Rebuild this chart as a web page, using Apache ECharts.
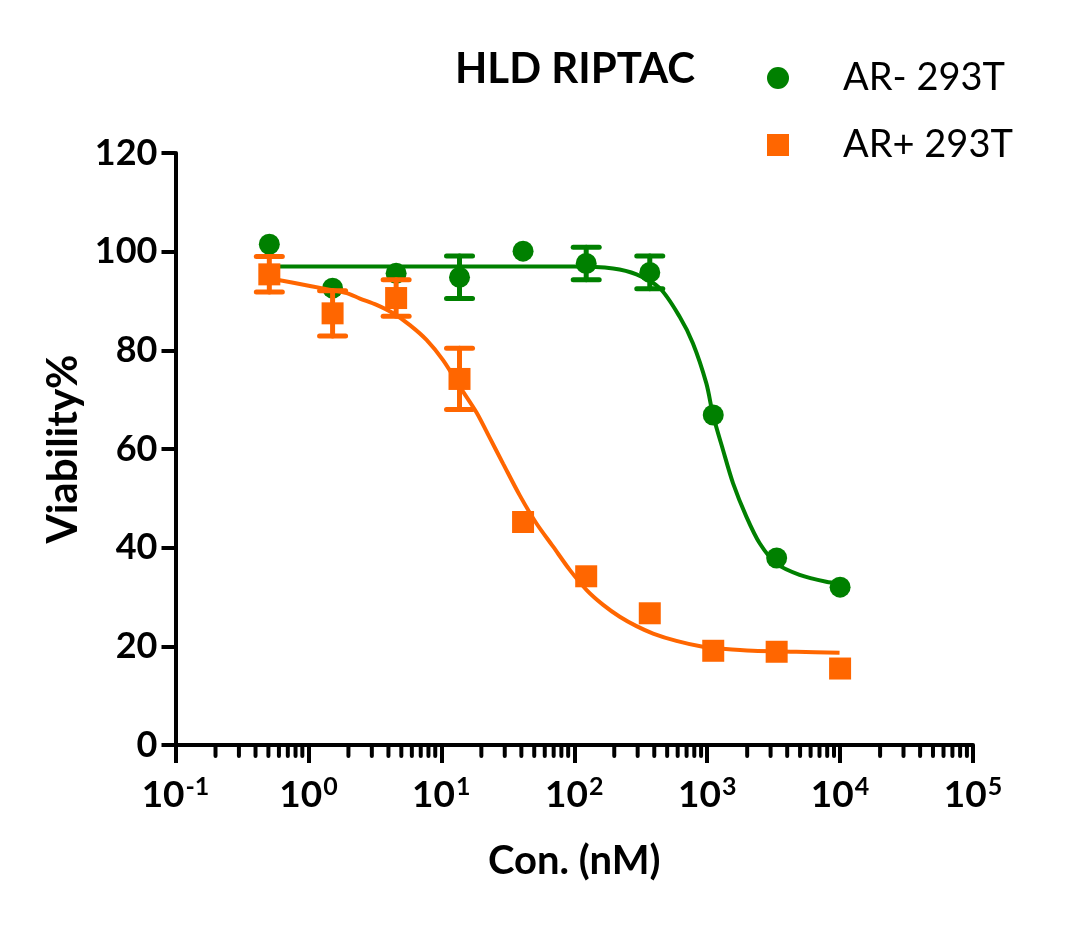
<!DOCTYPE html>
<html>
<head>
<meta charset="utf-8">
<script src="https://cdn.jsdelivr.net/npm/echarts@6/dist/echarts.min.js"></script>
<style>
html,body{margin:0;padding:0;background:#fff;}
#chart{width:1080px;height:933px;}
</style>
</head>
<body>
<div id="chart"></div>
<script>
// ---- data ----
const concentrations = [0.508, 1.52, 4.57, 13.7, 41.2, 123, 370, 1111, 3333, 10000];
const arMinusMean = [101.5, 92.6, 95.6, 94.8, 100.1, 97.6, 95.8, 66.9, 37.9, 32.0];
const arMinusErr  = [0, 0, 0, 4.3, 0, 3.3, 3.3, 0, 0, 0];
const arPlusMean  = [95.4, 87.5, 90.6, 74.2, 45.2, 34.2, 26.7, 19.1, 18.9, 15.5];
const arPlusErr   = [3.6, 4.6, 3.7, 6.2, 0, 0, 0, 0, 0, 0];

const arMinusFitX = [0.5, 5, 30, 100, 196, 294, 440, 621, 782, 986, 1107, 1316, 1564, 1972, 2483, 3315, 4959, 7865, 9908];
const arMinusFitY = [97.0, 97.0, 97.0, 97.0, 96.6, 95.4, 92.6, 86.8, 81.4, 73.3, 66.9, 59.8, 53.1, 46.3, 40.9, 36.8, 34.5, 33.1, 32.8];
const arPlusFitX = [0.5, 0.77, 1.37, 1.94, 2.44, 3.26, 4.34, 5.8, 7.74, 10.3, 13.8, 18.4, 23.2, 29.2, 38.9, 52, 69.4, 92.5, 124, 165, 220, 294, 392, 587, 929, 1309, 2199, 4687, 9908];
const arPlusFitY = [94.6, 93.7, 92.4, 91.6, 90.5, 89.2, 87.5, 85.1, 82.1, 78.0, 72.6, 67.4, 62.2, 57.0, 50.6, 44.9, 40.2, 35.5, 31.4, 28.4, 26.0, 24.1, 22.6, 21.1, 19.9, 19.5, 19.1, 18.9, 18.7];

const seriesNames = ['AR- 293T', 'AR+ 293T'];
const titleText = 'HLD RIPTAC';
const xName = 'Con. (nM)';
const yName = 'Viability%';
const xDecades = [-1, 0, 1, 2, 3, 4, 5];

const GREEN = '#008000';
const ORANGE = '#FF6600';
const FONT = 'Lato';

const minorTicks = [];
for (let k = xDecades[0]; k < xDecades[xDecades.length - 1]; k++) {
  for (let m = 2; m <= 9; m++) minorTicks.push(m * Math.pow(10, k));
}

function zip(a, b) { return a.map((v, i) => [v, b[i]]); }
function errData(mean, err) {
  const out = [];
  mean.forEach((m, i) => { if (err[i] > 0) out.push([concentrations[i], m - err[i], m + err[i]]); });
  return out;
}

function errRender(color) {
  return function (params, api) {
    const x = api.value(0);
    const lo = api.coord([x, api.value(1)]);
    const hi = api.coord([x, api.value(2)]);
    const hw = 13;
    const st = { stroke: color, lineWidth: 5, lineCap: 'round' };
    return {
      type: 'group',
      children: [
        { type: 'line', shape: { x1: lo[0], y1: lo[1], x2: hi[0], y2: hi[1] }, style: st },
        { type: 'line', shape: { x1: lo[0] - hw, y1: lo[1], x2: lo[0] + hw, y2: lo[1] }, style: st },
        { type: 'line', shape: { x1: hi[0] - hw, y1: hi[1], x2: hi[0] + hw, y2: hi[1] }, style: st }
      ]
    };
  };
}

const chart = echarts.init(document.getElementById('chart'), null, { renderer: 'canvas' });
const option = {
  backgroundColor: '#fff',
  animation: false,
  title: {
    text: titleText,
    left: 450, top: 43,
    textStyle: { fontFamily: FONT, fontWeight: 'bold', fontSize: 42, color: '#000' }
  },
  legend: {
    data: [{ name: seriesNames[0], icon: 'circle' }, { name: seriesNames[1], icon: 'rect' }],
    orient: 'vertical',
    left: 762, top: 52,
    itemWidth: 22, itemHeight: 22,
    itemGap: 25,
    selectedMode: false,
    textStyle: { fontFamily: FONT, fontSize: 38, color: '#000', lineHeight: 42, padding: [0, 0, 0, 49] }
  },
  grid: { left: 175.5, right: 107, top: 153, bottom: 188, containLabel: false },
  xAxis: {
    type: 'log', logBase: 10, min: 0.1, max: 100000,
    name: xName, nameLocation: 'middle', nameGap: 96,
    nameTextStyle: { fontFamily: FONT, fontWeight: 'bold', fontSize: 40, color: '#000' },
    axisLine: { show: true, onZero: false, lineStyle: { color: '#000', width: 4 } },
    axisTick: { show: true, inside: false, length: 18, lineStyle: { color: '#000', width: 4 } },
    splitLine: { show: false },
    minorTick: { show: false },
    axisLabel: {
      margin: 29,
      formatter: function (v) {
        const e = Math.round(Math.log10(v));
        return '{b|10}{s|' + e + '}';
      },
      rich: {
        b: { fontFamily: FONT, fontWeight: 'bold', fontSize: 37, color: '#000', lineHeight: 42 },
        s: { fontFamily: FONT, fontWeight: 'bold', fontSize: 25, color: '#000', verticalAlign: 'top', lineHeight: 42, padding: [0, 0, 0, 1] }
      }
    }
  },
  yAxis: {
    type: 'value', min: 0, max: 120, interval: 20,
    name: yName, nameLocation: 'middle', nameGap: 86, nameRotate: 90,
    nameTextStyle: { fontFamily: FONT, fontWeight: 'bold', fontSize: 42, color: '#000' },
    axisLine: { show: true, lineStyle: { color: '#000', width: 4 } },
    axisTick: { show: true, inside: false, length: 14, lineStyle: { color: '#000', width: 4 } },
    splitLine: { show: false },
    axisLabel: { margin: 18, fontFamily: FONT, fontWeight: 'bold', fontSize: 36, color: '#000' }
  },
  series: [
    {
      name: 'minor', type: 'custom', silent: true, clip: false,
      data: minorTicks.map(v => [v]),
      renderItem: function (params, api) {
        const p = api.coord([api.value(0), 0]);
        return { type: 'line', shape: { x1: p[0], y1: p[1], x2: p[0], y2: p[1] + 11 },
                 style: { stroke: '#000', lineWidth: 4, lineCap: 'round' } };
      }
    },
    {
      name: seriesNames[0] + ' fit', type: 'line', data: zip(arMinusFitX, arMinusFitY),
      showSymbol: false, symbol: 'none', smooth: 0.3,
      lineStyle: { color: GREEN, width: 4 }, silent: true, z: 2
    },
    {
      name: seriesNames[0] + ' err', type: 'custom', data: errData(arMinusMean, arMinusErr),
      renderItem: errRender(GREEN), silent: true, z: 2
    },
    {
      name: seriesNames[0], type: 'scatter', data: zip(concentrations, arMinusMean),
      symbol: 'circle', symbolSize: 21, itemStyle: { color: GREEN, opacity: 1 }, z: 3
    },
    {
      name: seriesNames[1] + ' fit', type: 'line', data: zip(arPlusFitX, arPlusFitY),
      showSymbol: false, symbol: 'none', smooth: 0.3,
      lineStyle: { color: ORANGE, width: 4 }, silent: true, z: 4
    },
    {
      name: seriesNames[1] + ' err', type: 'custom', data: errData(arPlusMean, arPlusErr),
      renderItem: errRender(ORANGE), silent: true, z: 4
    },
    {
      name: seriesNames[1], type: 'scatter', data: zip(concentrations, arPlusMean),
      symbol: 'rect', symbolSize: 22, itemStyle: { color: ORANGE, opacity: 1 }, z: 5
    }
  ]
};
chart.setOption(option);
</script>
</body>
</html>
